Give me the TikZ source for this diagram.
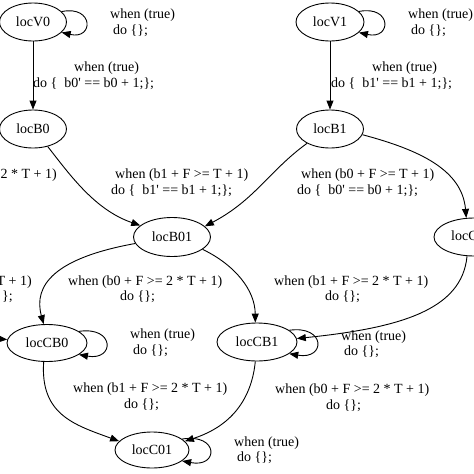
\documentclass[tikz,border=0pt]{standalone}
\usepackage{fontspec}
\setmainfont{Liberation Serif}
\usetikzlibrary{arrows.meta,shapes.geometric,calc}
\tikzset{
  st/.style={draw, ellipse, inner sep=0pt, line width=0.9pt, minimum height=38pt, font=\fontsize{14}{16}\selectfont},
  lbl/.style={anchor=west, inner sep=0pt, text height=10pt, text depth=3pt, font=\fontsize{14}{16}\selectfont},
  lble/.style={lbl, anchor=east},
  tr/.style={line width=0.9pt, -{Triangle[length=9pt,width=7pt]}},
}
\begin{document}
\begin{tikzpicture}[x=1pt,y=-1pt]
\useasboundingbox (0,0) rectangle (474,474);
\clip (0,0) rectangle (474,474);
% states
\node[st, minimum width=67pt] (V0) at (33,22) {locV0};
\node[st, minimum width=67pt] (B0) at (33,129) {locB0};
\node[st, minimum width=68pt] (V1) at (330,22) {locV1};
\node[st, minimum width=67pt] (B1) at (330,129) {locB1};
\node[st, minimum width=77pt, minimum height=39pt] (B01) at (172,237) {locB01};
\node[st, minimum width=80pt] (C) at (474,237) {};
\node[lbl] (Ct) at (451,237) {locC};
\node[st, minimum width=80pt, minimum height=37pt] (CB0) at (47,343) {locCB0};
\node[st, minimum width=80pt] (CB1) at (257,342) {locCB1};
\node[st, minimum width=74pt, minimum height=36pt] (C01) at (152,450) {locC01};
\coordinate (Lin) at (-40,336);
% edges
\draw[tr] (V0) -- (B0);
\draw[tr] (V1) -- (B1);
\draw[tr] (B0.-50) .. controls (70,175) and (95,210) .. (B01.160);
\draw[tr] (B1.-148) .. controls (270,170) and (255,200) .. (B01.18);
\draw[tr] (B1.-10) .. controls (420,150) and (462,170) .. (C.112);
\draw[tr] (B01.190) .. controls (55,258) and (33,285) .. (CB0.100);
\draw[tr] (B01.-22) .. controls (235,265) and (255,290) .. (CB1.95);
\draw[tr] (C.-110) .. controls (462,310) and (400,328) .. (CB1.5);
\draw[tr] (CB0.-100) .. controls (40,415) and (75,425) .. (C01.165);
\draw[tr] (CB1.-95) .. controls (252,395) and (235,425) .. (C01.15);
\draw[tr] (Lin) -- (CB0.175);
% self loops
\draw[tr] (V0.20) .. controls ($(V0.center)+(61,-17)$) and ($(V0.center)+(61,18)$) .. (V0.-20);
\draw[tr] (V1.20) .. controls ($(V1.center)+(62,-17)$) and ($(V1.center)+(62,18)$) .. (V1.-20);
\draw[tr] (CB0.20) .. controls ($(CB0.center)+(68,-17)$) and ($(CB0.center)+(68,18)$) .. (CB0.-20);
\draw[tr] (CB1.20) .. controls ($(CB1.center)+(69,-17)$) and ($(CB1.center)+(69,18)$) .. (CB1.-20);
\draw[tr] (C01.20) .. controls ($(C01.center)+(67,-17)$) and ($(C01.center)+(67,18)$) .. (C01.-20);
% labels
\node[lbl] (l1a) at (110,15) {when (true)};
\node[lbl] (l1b) at (113,31) {do \{\};};
\node[lbl] (l2a) at (74,68) {when (true)};
\node[lbl] (l2b) at (33,84) {do \{ \ b0\textquotesingle{} == b0 + 1;\};};
\node[lbl] (l3a) at (408,15) {when (true)};
\node[lbl] (l3b) at (411,31) {do \{\};};
\node[lbl] (l4a) at (372,68) {when (true)};
\node[lbl] (l4b) at (331,84) {do \{ \ b1\textquotesingle{} == b1 + 1;\};};
\node[lbl] (l5a) at (115,175) {when (b1 + F >= T + 1)};
\node[lbl] (l5b) at (111,191) {do \{ \ b1\textquotesingle{} == b1 + 1;\};};
\node[lbl] (l6a) at (301,175) {when (b0 + F >= T + 1)};
\node[lbl] (l6b) at (297,191) {do \{ \ b0\textquotesingle{} == b0 + 1;\};};
\node[lbl] (l7a) at (68,282) {when (b0 + F >= 2 * T + 1)};
\node[lbl] (l7b) at (120,297) {do \{\};};
\node[lbl] (l8a) at (274,282) {when (b1 + F >= 2 * T + 1)};
\node[lbl] (l8b) at (325,297) {do \{\};};
\node[lbl] (l9a) at (130,335) {when (true)};
\node[lbl] (l9b) at (133,351) {do \{\};};
\node[lbl] (l10a) at (341,337) {when (true)};
\node[lbl] (l10b) at (344,352) {do \{\};};
\node[lbl] (l11a) at (73,389) {when (b1 + F >= 2 * T + 1)};
\node[lbl] (l11b) at (124,405) {do \{\};};
\node[lbl] (l12a) at (275,390) {when (b0 + F >= 2 * T + 1)};
\node[lbl] (l12b) at (326,406) {do \{\};};
\node[lbl] (l13a) at (234,443) {when (true)};
\node[lbl] (l13b) at (237,458) {do \{\};};
\node[lble] (p1) at (57,175) {2 * T + 1)};
\node[lble] (p2) at (32,282) {T + 1)};
\node[lble] (p3) at (13,297) {\};};
\end{tikzpicture}
\end{document}
